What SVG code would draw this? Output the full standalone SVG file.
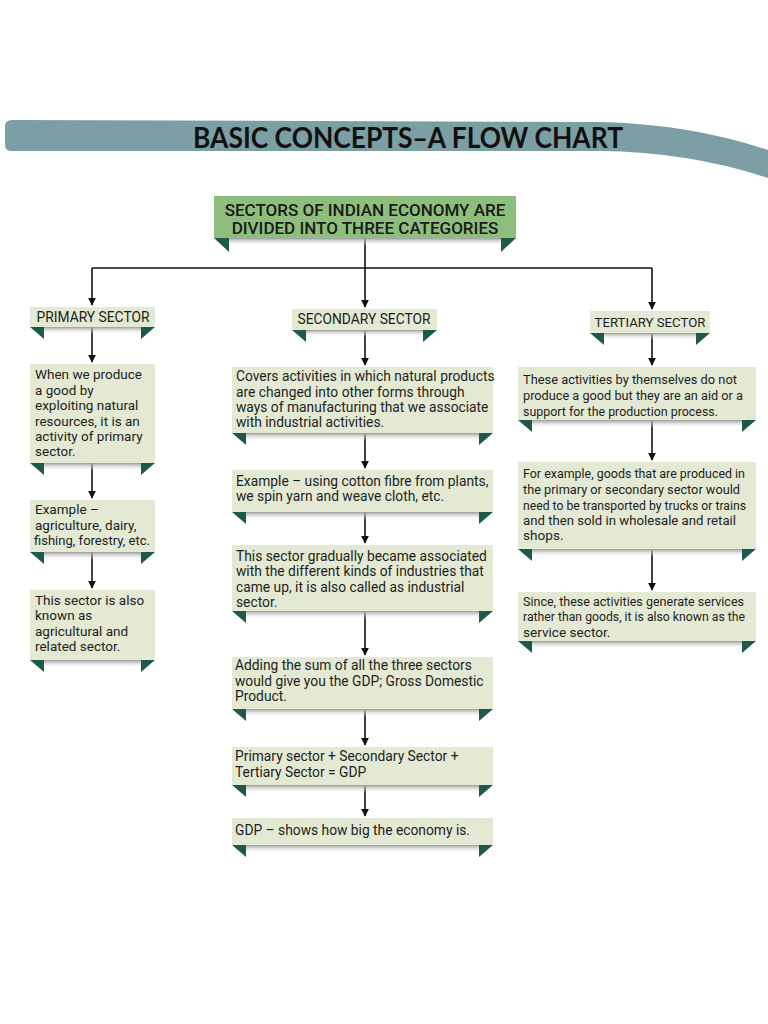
<svg xmlns="http://www.w3.org/2000/svg" width="768" height="1024" viewBox="0 0 768 1024">
<style>
.box{fill:#e3e9d3;}
.tab{fill:#1d5a4c;}
.sh{fill:url(#shade);}
.t{font-family:Roboto,"Liberation Sans",sans-serif;font-size:13.5px;fill:#1e1e1e;}
.s{font-size:13.8px;}
.r{font-size:13.6px;}
.n{font-size:12.6px;}
.lbl{font-family:Roboto,"Liberation Sans",sans-serif;font-size:13.8px;fill:#1e1e1e;text-anchor:middle;}
.head{font-family:Roboto,"Liberation Sans",sans-serif;font-size:17px;font-weight:500;fill:#1a1a1a;text-anchor:middle;}
.title{font-family:Lato,"Liberation Sans",sans-serif;font-size:28px;font-weight:bold;fill:#111;}
.c{stroke:#111;stroke-width:1.6;fill:none;}
</style>
<defs>
<linearGradient id="shade" x1="0" y1="0" x2="0" y2="1">
<stop offset="0" stop-color="#9a9a9a"/>
<stop offset="1" stop-color="#ffffff" stop-opacity="0"/>
</linearGradient>
<marker id="ah" viewBox="0 0 10 10" refX="9" refY="5" markerWidth="5" markerHeight="5" orient="auto">
<path d="M0,0 L10,5 L0,10 Z" fill="#111"/>
</marker>
</defs>
<rect width="768" height="1024" fill="#ffffff"/>

<g id="banner">
<path d="M5,126 Q5,120 12,120 L600,122 Q690,124 768,150 L768,178 Q690,152 600,151 L12,151 Q5,151 5,145 Z" fill="#7c9ea5"/>
<text class="title" x="193" y="148" textLength="430" lengthAdjust="spacingAndGlyphs">BASIC CONCEPTS–A FLOW CHART</text>
</g>

<g id="connectors">
<line class="c" x1="365" y1="238" x2="365" y2="268"/>
<line class="c" x1="92" y1="268" x2="652" y2="268"/>
<line class="c" x1="92" y1="268" x2="92" y2="305" marker-end="url(#ah)"/>
<line class="c" x1="365" y1="268" x2="365" y2="307" marker-end="url(#ah)"/>
<line class="c" x1="652" y1="268" x2="652" y2="309" marker-end="url(#ah)"/>
<line class="c" x1="92" y1="327" x2="92" y2="362" marker-end="url(#ah)"/>
<line class="c" x1="92" y1="463" x2="92" y2="498" marker-end="url(#ah)"/>
<line class="c" x1="92" y1="552" x2="92" y2="588" marker-end="url(#ah)"/>
<line class="c" x1="365" y1="330" x2="365" y2="365" marker-end="url(#ah)"/>
<line class="c" x1="365" y1="432" x2="365" y2="468" marker-end="url(#ah)"/>
<line class="c" x1="365" y1="512" x2="365" y2="543" marker-end="url(#ah)"/>
<line class="c" x1="365" y1="610" x2="365" y2="655" marker-end="url(#ah)"/>
<line class="c" x1="365" y1="710" x2="365" y2="745" marker-end="url(#ah)"/>
<line class="c" x1="365" y1="785" x2="365" y2="816" marker-end="url(#ah)"/>
<line class="c" x1="652" y1="333" x2="652" y2="365" marker-end="url(#ah)"/>
<line class="c" x1="652" y1="420" x2="652" y2="460" marker-end="url(#ah)"/>
<line class="c" x1="652" y1="550" x2="652" y2="590" marker-end="url(#ah)"/>
</g>

<g id="root">
<rect x="214" y="196" width="302" height="42" fill="#8dbe7b"/>
<rect class="sh" x="229" y="238" width="272" height="8"/>
<polygon class="tab" points="214,238 229,238 229,252"/>
<polygon class="tab" points="516,238 501,238 501,252"/>
<text class="head" x="365" y="216">SECTORS OF INDIAN ECONOMY ARE</text>
<text class="head" x="365" y="234">DIVIDED INTO THREE CATEGORIES</text>
</g>

<g id="primary">
<rect class="box" x="30" y="307" width="125" height="20"/>
<rect class="sh" x="44" y="327" width="97" height="7"/>
<polygon class="tab" points="30,327 44,327 44,339"/>
<polygon class="tab" points="155,327 141,327 141,339"/>
<text class="lbl" x="93" y="322">PRIMARY SECTOR</text>
</g>

<g id="secondary">
<rect class="box" x="292" y="309" width="145" height="21"/>
<rect class="sh" x="306" y="330" width="117" height="7"/>
<polygon class="tab" points="292,330 306,330 306,342"/>
<polygon class="tab" points="437,330 423,330 423,342"/>
<text class="lbl" x="364" y="324">SECONDARY SECTOR</text>
</g>

<g id="tertiary">
<rect class="box" x="590" y="311" width="120" height="22"/>
<rect class="sh" x="604" y="333" width="92" height="7"/>
<polygon class="tab" points="590,333 604,333 604,345"/>
<polygon class="tab" points="710,333 696,333 696,345"/>
<text class="lbl" x="650" y="327" style="font-size:13.2px">TERTIARY SECTOR</text>
</g>

<g id="p1">
<rect class="box" x="30" y="364" width="125" height="99"/>
<rect class="sh" x="44" y="463" width="97" height="8"/>
<polygon class="tab" points="30,463 44,463 44,475"/>
<polygon class="tab" points="155,463 141,463 141,475"/>
<text class="t" x="35" y="379">When we produce</text>
<text class="t" x="35" y="395">a good by</text>
<text class="t" x="35" y="410">exploiting natural</text>
<text class="t" x="35" y="426">resources, it is an</text>
<text class="t" x="35" y="441">activity of primary</text>
<text class="t" x="35" y="456">sector.</text>
</g>

<g id="p2">
<rect class="box" x="30" y="500" width="125" height="52"/>
<rect class="sh" x="44" y="552" width="97" height="8"/>
<polygon class="tab" points="30,552 44,552 44,564"/>
<polygon class="tab" points="155,552 141,552 141,564"/>
<text class="t" x="35" y="514">Example –</text>
<text class="t" x="35" y="530">agriculture, dairy,</text>
<text class="t" x="34" y="545" textLength="116" lengthAdjust="spacingAndGlyphs">fishing, forestry, etc.</text>
</g>

<g id="p3">
<rect class="box" x="30" y="590" width="125" height="70"/>
<rect class="sh" x="44" y="660" width="97" height="8"/>
<polygon class="tab" points="30,660 44,660 44,672"/>
<polygon class="tab" points="155,660 141,660 141,672"/>
<text class="t" x="35" y="605">This sector is also</text>
<text class="t" x="35" y="620">known as</text>
<text class="t" x="35" y="636">agricultural and</text>
<text class="t" x="35" y="651">related sector.</text>
</g>

<g id="s1">
<rect class="box" x="232" y="367" width="261" height="66"/>
<rect class="sh" x="246" y="433" width="233" height="8"/>
<polygon class="tab" points="232,433 246,433 246,445"/>
<polygon class="tab" points="493,433 479,433 479,445"/>
<text class="t s" x="236" y="381">Covers activities in which natural products</text>
<text class="t s" x="236" y="397">are changed into other forms through</text>
<text class="t s" x="236" y="412">ways of manufacturing that we associate</text>
<text class="t s" x="236" y="427">with industrial activities.</text>
</g>

<g id="s2">
<rect class="box" x="232" y="470" width="261" height="42"/>
<rect class="sh" x="246" y="512" width="233" height="8"/>
<polygon class="tab" points="232,512 246,512 246,524"/>
<polygon class="tab" points="493,512 479,512 479,524"/>
<text class="t s" x="236" y="486">Example – using cotton fibre from plants,</text>
<text class="t s" x="236" y="501">we spin yarn and weave cloth, etc.</text>
</g>

<g id="s3">
<rect class="box" x="232" y="545" width="261" height="66"/>
<rect class="sh" x="246" y="611" width="233" height="8"/>
<polygon class="tab" points="232,611 246,611 246,623"/>
<polygon class="tab" points="493,611 479,611 479,623"/>
<text class="t s" x="236" y="561">This sector gradually became associated</text>
<text class="t s" x="236" y="576">with the different kinds of industries that</text>
<text class="t s" x="236" y="592">came up, it is also called as industrial</text>
<text class="t s" x="236" y="607">sector.</text>
</g>

<g id="s4">
<rect class="box" x="232" y="657" width="261" height="52"/>
<rect class="sh" x="246" y="709" width="233" height="8"/>
<polygon class="tab" points="232,709 246,709 246,721"/>
<polygon class="tab" points="493,709 479,709 479,721"/>
<text class="t s" x="235" y="670">Adding the sum of all the three sectors</text>
<text class="t s" x="235" y="686">would give you the GDP; Gross Domestic</text>
<text class="t s" x="235" y="701">Product.</text>
</g>

<g id="s5">
<rect class="box" x="232" y="747" width="261" height="38"/>
<rect class="sh" x="246" y="785" width="233" height="8"/>
<polygon class="tab" points="232,785 246,785 246,797"/>
<polygon class="tab" points="493,785 479,785 479,797"/>
<text class="t s" x="235" y="761">Primary sector + Secondary Sector +</text>
<text class="t s" x="235" y="777">Tertiary Sector = GDP</text>
</g>

<g id="s6">
<rect class="box" x="232" y="818" width="261" height="27"/>
<rect class="sh" x="246" y="845" width="233" height="8"/>
<polygon class="tab" points="232,845 246,845 246,857"/>
<polygon class="tab" points="493,845 479,845 479,857"/>
<text class="t s" x="235" y="835">GDP – shows how big the economy is.</text>
</g>

<g id="t1">
<rect class="box" x="518" y="367" width="238" height="53"/>
<rect class="sh" x="532" y="420" width="210" height="8"/>
<polygon class="tab" points="518,420 532,420 532,432"/>
<polygon class="tab" points="756,420 742,420 742,432"/>
<text class="t r" x="523" y="384" textLength="214" lengthAdjust="spacingAndGlyphs">These activities by themselves do not</text>
<text class="t r" x="523" y="400" textLength="220" lengthAdjust="spacingAndGlyphs">produce a good but they are an aid or a</text>
<text class="t r" x="523" y="416" textLength="195" lengthAdjust="spacingAndGlyphs">support for the production process.</text>
</g>

<g id="t2">
<rect class="box" x="518" y="462" width="238" height="87"/>
<rect class="sh" x="532" y="549" width="210" height="8"/>
<polygon class="tab" points="518,549 532,549 532,561"/>
<polygon class="tab" points="756,549 742,549 742,561"/>
<text class="t r" x="523" y="478" textLength="222" lengthAdjust="spacingAndGlyphs">For example, goods that are produced in</text>
<text class="t r" x="523" y="494" textLength="217" lengthAdjust="spacingAndGlyphs">the primary or secondary sector would</text>
<text class="t n" x="523" y="510" textLength="223" lengthAdjust="spacingAndGlyphs">need to be transported by trucks or trains</text>
<text class="t r" x="523" y="525" textLength="213" lengthAdjust="spacingAndGlyphs">and then sold in wholesale and retail</text>
<text class="t r" x="523" y="540">shops.</text>
</g>

<g id="t3">
<rect class="box" x="518" y="592" width="238" height="49"/>
<rect class="sh" x="532" y="641" width="210" height="8"/>
<polygon class="tab" points="518,641 532,641 532,653"/>
<polygon class="tab" points="756,641 742,641 742,653"/>
<text class="t r" x="523" y="606" textLength="221" lengthAdjust="spacingAndGlyphs">Since, these activities generate services</text>
<text class="t r" x="523" y="621" textLength="222" lengthAdjust="spacingAndGlyphs">rather than goods, it is also known as the</text>
<text class="t r" x="523" y="637">service sector.</text>
</g>
</svg>
